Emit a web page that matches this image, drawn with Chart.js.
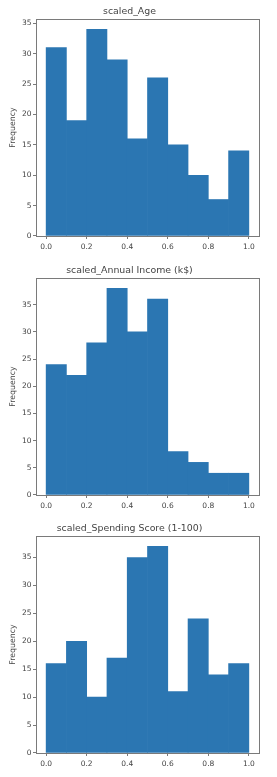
<!DOCTYPE html>
<html>
<head>
<meta charset="utf-8">
<script src="https://cdn.jsdelivr.net/npm/chart.js@4/dist/chart.umd.min.js"></script>
<style>
    html, body { margin: 0; padding: 0; background: #fff; }
    .wrap { position: absolute; left: 0; width: 277px; height: 258px; }
</style>
</head>
<body>
<div class="wrap" style="top:0px"><canvas id="c1"></canvas></div>
<div class="wrap" style="top:258.5px"><canvas id="c2"></canvas></div>
<div class="wrap" style="top:517px"><canvas id="c3"></canvas></div>
<script>
// Данные гистограмм (10 бинов от 0 до 1)
const binCenters = [0.05, 0.15, 0.25, 0.35, 0.45, 0.55, 0.65, 0.75, 0.85, 0.95];
const xTicks = [0.0, 0.2, 0.4, 0.6, 0.8, 1.0];
const ageCounts = [31, 19, 34, 29, 16, 26, 15, 10, 6, 14];
const incomeCounts = [24, 22, 28, 38, 30, 36, 8, 6, 4, 4];
const spendingCounts = [16, 20, 10, 17, 35, 37, 11, 24, 14, 16];
const titles = ['scaled_Age', 'scaled_Annual Income (k$)', 'scaled_Spending Score (1-100)'];

const barColor = '#2b76b2';
const textColor = '#444';
const frameColor = '#7a7a7a';
const fontFamily = '"DejaVu Sans", sans-serif';

// рамка вокруг области графика (как spines в matplotlib)
const framePlugin = {
    id: 'frame',
    afterDraw(chart) {
        const a = chart.chartArea;
        const ctx = chart.ctx;
        ctx.save();
        ctx.strokeStyle = frameColor;
        ctx.lineWidth = 1;
        ctx.strokeRect(Math.round(a.left) + 0.5, Math.round(a.top) + 0.5,
            Math.round(a.right - a.left), Math.round(a.bottom - a.top));
        ctx.restore();
    }
};

function makeHist(id, title, counts) {
    const maxY = Math.max(...counts) * 1.05;
    new Chart(document.getElementById(id), {
        type: 'bar',
        data: {
            datasets: [{
                data: binCenters.map((x, i) => ({ x: x, y: counts[i] })),
                backgroundColor: barColor,
                borderWidth: 0,
                barPercentage: 1.0,
                categoryPercentage: 1.0
            }]
        },
        options: {
            responsive: true,
            maintainAspectRatio: false,
            animation: false,
            layout: { padding: { left: 0, right: 18, top: 0, bottom: 0 } },
            plugins: {
                legend: { display: false },
                tooltip: { enabled: false },
                title: {
                    display: true,
                    text: title,
                    color: textColor,
                    font: { family: fontFamily, size: 9.4, weight: 'normal' },
                    padding: { top: 6, bottom: 1.7 }
                }
            },
            scales: {
                x: {
                    type: 'linear',
                    min: -0.05,
                    max: 1.05,
                    offset: false,
                    afterFit: s => { s.height = 22; },
                    border: { display: false },
                    grid: { offset: false, drawOnChartArea: false, drawTicks: true, tickLength: 3, color: frameColor },
                    afterBuildTicks: s => { s.ticks = xTicks.map(v => ({ value: v })); },
                    ticks: {
                        color: textColor,
                        padding: 3.5,
                        maxRotation: 0,
                        font: { family: fontFamily, size: 7.5 },
                        callback: v => v.toFixed(1)
                    }
                },
                y: {
                    min: 0,
                    max: maxY,
                    afterFit: s => { s.width = 36; },
                    border: { display: false },
                    grid: { drawOnChartArea: false, drawTicks: true, tickLength: 3, color: frameColor },
                    ticks: {
                        stepSize: 5,
                        includeBounds: false,
                        color: textColor,
                        padding: 1.5,
                        font: { family: fontFamily, size: 7.5 }
                    },
                    title: {
                        display: true,
                        text: 'Frequency',
                        color: textColor,
                        font: { family: fontFamily, size: 7.8 },
                        padding: { top: 8.5, bottom: 0 }
                    }
                }
            }
        },
        plugins: [framePlugin]
    });
}

makeHist('c1', titles[0], ageCounts);
makeHist('c2', titles[1], incomeCounts);
makeHist('c3', titles[2], spendingCounts);
</script>
</body>
</html>
